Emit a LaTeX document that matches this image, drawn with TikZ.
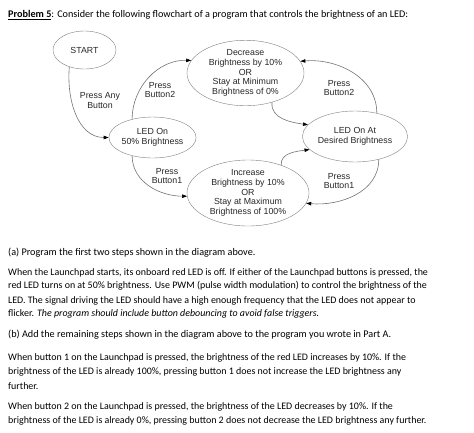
\documentclass[tikz,border=0pt]{standalone}
\usepackage{fontspec}
\setmainfont{Carlito}
\newfontfamily\diagfont{Liberation Sans}
\usetikzlibrary{arrows.meta,shapes.geometric}

\begin{document}
\begin{tikzpicture}[x=1pt,y=1pt]
\tikzstyle{state}=[ellipse,draw=black!50,inner sep=0pt,align=center,text=black!85,font=\diagfont\fontsize{8.8}{9.6}\selectfont]
\tikzstyle{lbl}=[align=center,inner sep=0pt,text=black!85,font=\diagfont\fontsize{8.8}{9.6}\selectfont]
\tikzstyle{link}=[draw=black!55,line width=0.6pt,-{Triangle[length=5pt,width=3.5pt,color=black]}]
\tikzstyle{txt}=[anchor=base west,inner sep=0pt,font=\fontsize{9.95}{11}\selectfont]
\tikzstyle{head}=[anchor=base west,inner sep=0pt,font=\fontsize{10.2}{12}\selectfont]
\useasboundingbox (0,0) rectangle (474,-432);
% flowchart
\node [state,minimum width=63,minimum height=38] (start) at (84.5,-50) {START};
\node [state,minimum width=78,minimum height=41] (led50) at (152.5,-137.5) {LED On\\50\% Brightness};
\node [state,minimum width=117,minimum height=62] (dec) at (245.5,-73) {Decrease\\Brightness by 10\%\\OR\\Stay at Minimum\\Brightness of 0\%};
\node [state,minimum width=122,minimum height=66] (inc) at (248,-193) {Increase\\Brightness by 10\%\\OR\\Stay at Maximum\\Brightness of 100\%};
\node [state,minimum width=86,minimum height=51] (desired) at (355,-136.5) {LED On At\\Desired Brightness};
\draw [link] (start.228) to[out=-95,in=180] (led50.west);
\draw [link] (led50.138) to[out=90,in=178] (dec.167);
\draw [link] (led50.222) to[out=-90,in=180] (inc.183);
\draw [link] (dec.312) to[out=-95,in=172] (desired.166);
\draw [link] (inc.40) to[out=95,in=188] (desired.196);
\draw [link] (desired.47) to[out=90,in=5] (dec.12);
\draw [link] (desired.-44) to[out=-90,in=-5] (inc.-10);
\node [lbl] (l1) at (100,-100.7) {Press Any\\Button};
\node [lbl] (l2) at (160,-90) {Press\\Button2};
\node [lbl] (l3) at (167,-176) {Press\\Button1};
\node [lbl] (l4) at (339,-88) {Press\\Button2};
\node [lbl] (l5) at (339,-181) {Press\\Button1};
% text
\node [head] (title) at (8,-17.5) {\underline{\textbf{Problem 5}}: Consider the following flowchart of a program that controls the brightness of an LED:};
\node [head] (parta) at (8,-255) {(a) Program the first two steps shown in the diagram above.};
\node [txt] (a1) at (8,-275) {When the Launchpad starts, its onboard red LED is off. If either of the Launchpad buttons is pressed, the};
\node [txt] (a2) at (8,-288.5) {red LED turns on at 50\% brightness. Use PWM (pulse width modulation) to control the brightness of the};
\node [txt] (a3) at (8,-303) {LED. The signal driving the LED should have a high enough frequency that the LED does not appear to};
\node [txt] (a4) at (8,-316.7) {flicker. \textit{The program should include button debouncing to avoid false triggers.}};
\node [head] (partb) at (8,-337.3) {(b) Add the remaining steps shown in the diagram above to the program you wrote in Part A.};
\node [txt] (b1) at (8,-360.7) {When button 1 on the Launchpad is pressed, the brightness of the red LED increases by 10\%. If the};
\node [txt] (b2) at (8,-374.7) {brightness of the LED is already 100\%, pressing button 1 does not increase the LED brightness any};
\node [txt] (b3) at (8,-389) {further.};
\node [txt] (c1) at (8,-409.7) {When button 2 on the Launchpad is pressed, the brightness of the LED decreases by 10\%. If the};
\node [txt] (c2) at (8,-423.3) {brightness of the LED is already 0\%, pressing button 2 does not decrease the LED brightness any further.};
\end{tikzpicture}
\end{document}
